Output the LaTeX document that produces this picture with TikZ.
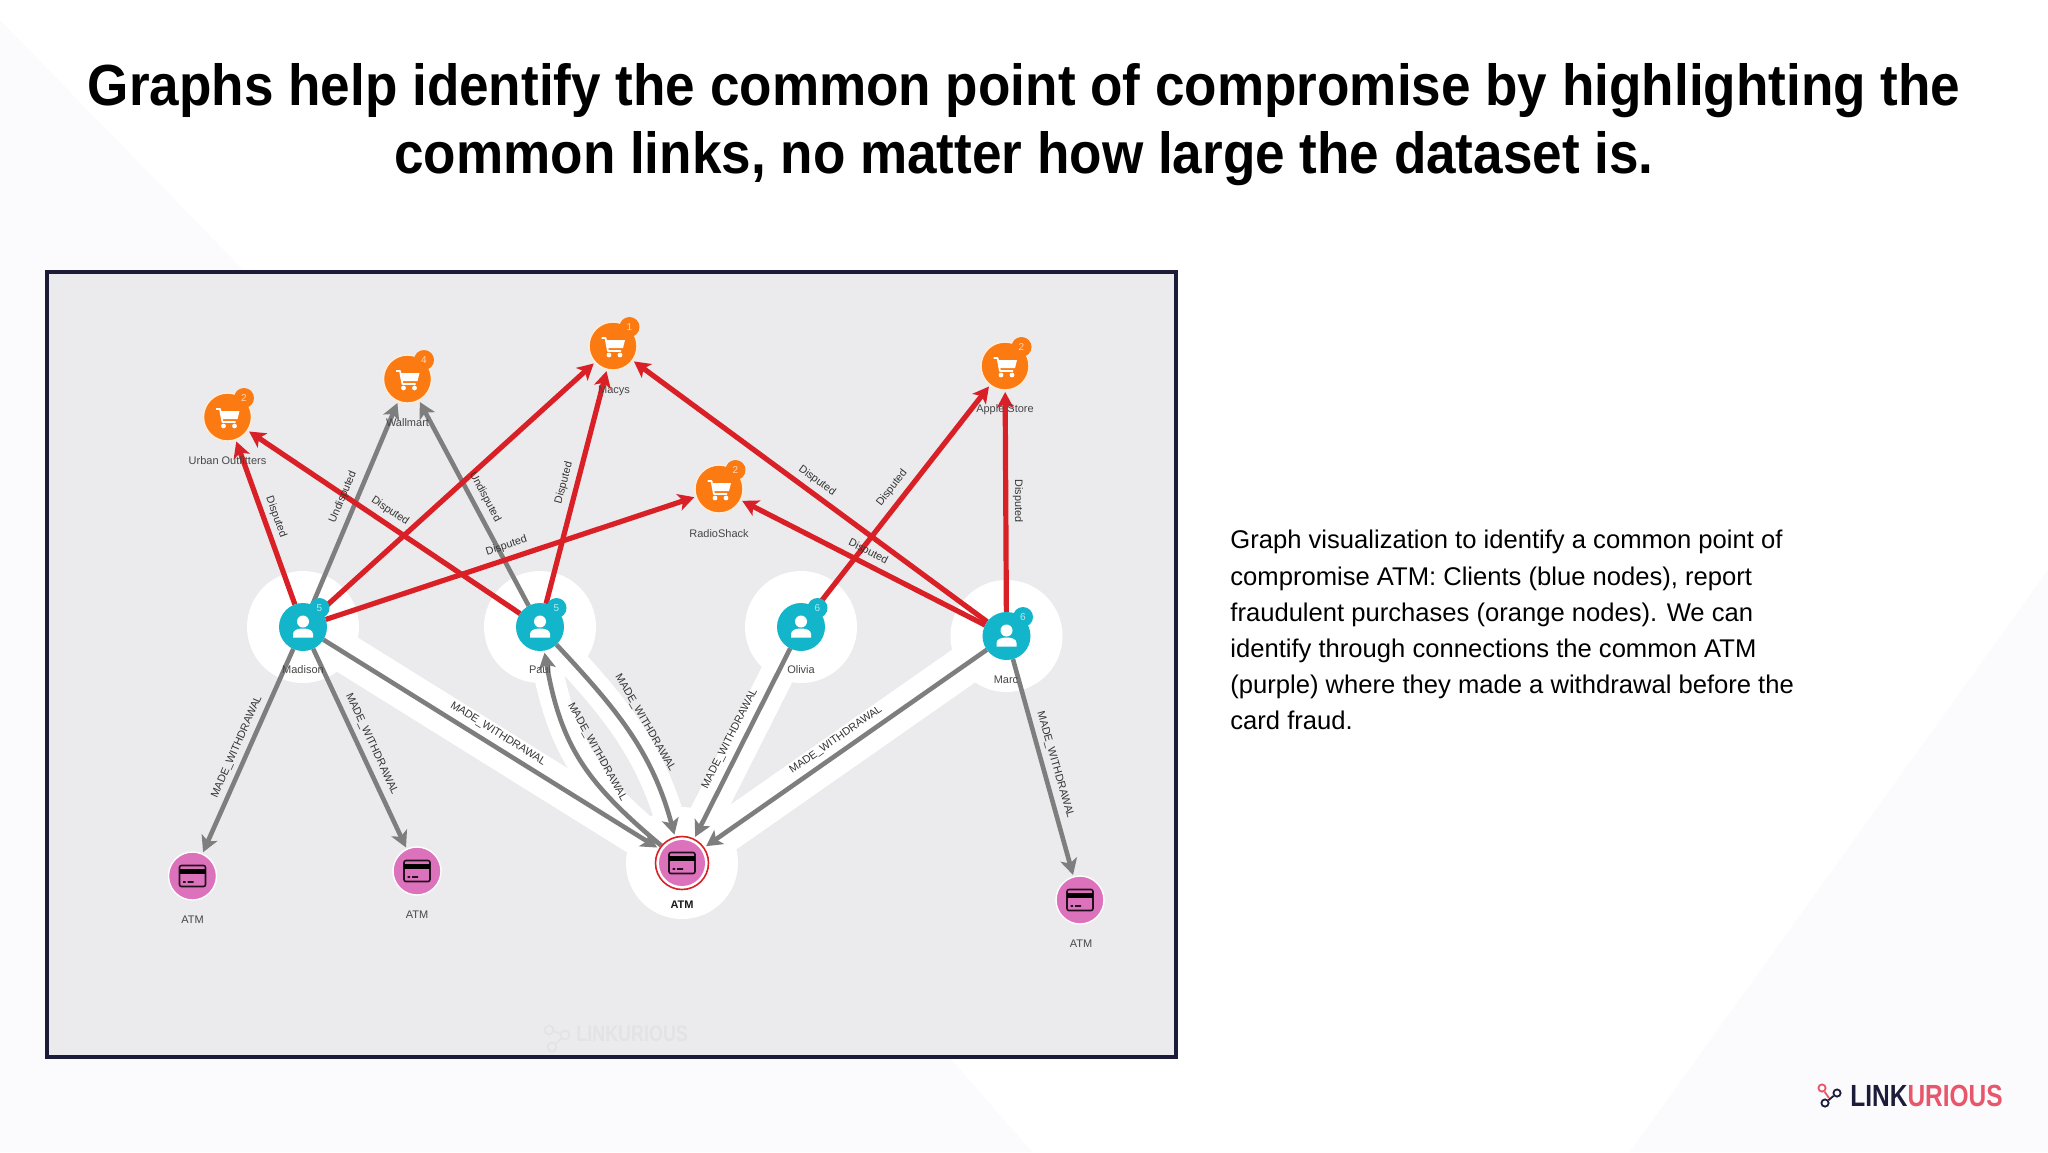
\documentclass[tikz,border=0pt]{standalone}
\usepackage{fontspec}
\setmainfont{Liberation Sans}
\newfontfamily\logofont[FakeStretch=0.8]{Liberation Sans Bold}
\newfontfamily\titlefont[FakeStretch=0.915]{Liberation Sans Bold}
\usetikzlibrary{arrows.meta}
\pgfdeclarelayer{backlayer}
\pgfdeclarelayer{halolayer}
\pgfdeclarelayer{edgelayer}
\pgfsetlayers{backlayer,halolayer,edgelayer,main}
\definecolor{framecol}{HTML}{1C1B3A}
\definecolor{panelcol}{HTML}{EBEBED}
\definecolor{orangecol}{HTML}{FB7A12}
\definecolor{tealcol}{HTML}{13B5CB}
\definecolor{pinkcol}{HTML}{DD72BC}
\definecolor{redcol}{HTML}{D92026}
\definecolor{graycol}{HTML}{7E7E7E}
\definecolor{coral}{HTML}{E8566B}
\definecolor{pagetint}{HTML}{FBFBFD}
\tikzset{
  x=0.5pt,y=-0.5pt,
  gnode/.style={circle,inner sep=0pt,minimum size=24pt,outer sep=0pt},
  shopnode/.style={gnode,fill=orangecol,draw=white!85!orange,line width=.7pt},
  clientnode/.style={gnode,fill=tealcol},
  atmnode/.style={gnode,fill=pinkcol,draw=white,line width=.7pt},
  badgenode/.style={circle,inner sep=0pt,minimum size=10pt,font=\fontsize{5}{5}\selectfont},
  shopbadge/.style={badgenode,fill=orangecol,text=white!70!orangecol},
  clientbadge/.style={badgenode,fill=tealcol,text=white!70!tealcol},
  redge/.style={draw=redcol,line width=2.6pt,-{Stealth[length=8pt,width=8.5pt,inset=2pt]},shorten >=1pt},
  gedge/.style={draw=graycol,line width=2.3pt,-{Stealth[length=8pt,width=8.5pt,inset=2pt]},shorten >=1pt},
  band/.style={draw=white,line width=20pt},
  leftcurve/.style={out=140,in=-80,looseness=1.1},
  rightcurve/.style={out=-47,in=105},
  elab/.style={font=\fontsize{5.4}{6}\selectfont,text=black!80,inner sep=0pt},
  nlab/.style={font=\fontsize{5.5}{6}\selectfont,text=black!72,inner sep=0pt},
  cart/.pic={
    \draw[white,line width=.9pt,line join=round] (-11.5,-8)--(-7.5,-8)--(-5,5)--(8,5);
    \fill[white] (-6.5,-6)--(12,-6)--(10,2)--(-5,2)--cycle;
    \fill[white] (-4,9) circle[radius=1.2pt] (7,9) circle[radius=1.2pt];
  },
  person/.pic={
    \fill[white] (0,-5.5) circle[radius=3pt];
    \fill[white] (-10,10.5) -- (-10,7) .. controls (-10,3) and (-5,1.5) .. (0,1.5)
      .. controls (5,1.5) and (10,3) .. (10,7) -- (10,10.5) -- cycle;
  },
  card/.pic={
    \draw[black!85!pinkcol,line width=.8pt,rounded corners=1pt] (-13,-10.5) rectangle (13,10.5);
    \fill[black] (-13,-7) rectangle (13,-2.5);
    \fill[black!85!pinkcol] (-9.5,5.2) rectangle (-7,6.8) (-5,5.2) rectangle (1,6.8);
  }
}
\begin{document}
\begin{tikzpicture}
\useasboundingbox (0,0) rectangle (2048,1152);
\begin{pgfonlayer}{backlayer}
\fill[white] (0,0) rectangle (2048,1152);
\fill[pagetint] (0,20)--(245,272)--(245,1058)--(950,1058)--(1032,1152)--(0,1152)--cycle;
\fill[pagetint] (2048,570)--(1630,1152)--(2048,1152)--cycle;
\node[draw=framecol,fill=panelcol,line width=2pt,inner sep=0pt,minimum width=564.5pt,minimum height=392.5pt,outer sep=0pt] (panel) at (611.5,664.5) {};
\end{pgfonlayer}
% title and text
\node[align=center,inner sep=0pt,font=\titlefont\fontsize{29}{34}\selectfont] (title) at (1024,124.5)
  {Graphs help identify the common point of compromise by highlighting the\\common links, no matter how large the dataset is.};
\node[anchor=north west,align=left,inner sep=0pt,font=\fontsize{12.8}{18.1}\selectfont] (body) at (1230,530)
  {Graph visualization to identify a common point of\\compromise ATM: Clients (blue nodes), report\\fraudulent purchases (orange nodes). We can\\identify through connections the common ATM\\(purple) where they made a withdrawal before the\\card fraud.};
% graph nodes
\node[shopnode] (urban) at (227.5,417) {}; \pic at (urban) {cart};
\node[shopbadge] (b1) at (244,398) {2};
\node[shopnode] (wall) at (407.5,379) {}; \pic at (wall) {cart};
\node[shopbadge] (b2) at (424,360) {4};
\node[shopnode] (macys) at (613,346) {}; \pic at (macys) {cart};
\node[shopbadge] (b3) at (629.5,327) {1};
\node[shopnode] (radio) at (719,489) {}; \pic at (radio) {cart};
\node[shopbadge] (b4) at (735.5,470) {2};
\node[shopnode] (apple) at (1005,366) {}; \pic at (apple) {cart};
\node[shopbadge] (b5) at (1021.5,347) {2};
\node[clientnode] (madison) at (303,627) {}; \pic at (madison) {person};
\node[clientbadge] (b6) at (319.5,608) {5};
\node[clientnode] (paul) at (540,627) {}; \pic at (paul) {person};
\node[clientbadge] (b7) at (556.5,608) {5};
\node[clientnode] (olivia) at (801,627) {}; \pic at (olivia) {person};
\node[clientbadge] (b8) at (817.5,608) {6};
\node[clientnode] (marc) at (1006.5,636) {}; \pic at (marc) {person};
\node[clientbadge] (b9) at (1023,617) {6};
\node[atmnode] (atma) at (192.5,876) {}; \pic at (atma) {card};
\node[atmnode] (atmb) at (417,871) {}; \pic at (atmb) {card};
\node[circle,inner sep=0pt,minimum size=26.5pt,fill=white,draw=redcol,line width=.8pt] (atmr) at (682,863) {};
\node[atmnode,draw=none,minimum size=23pt] (atmc) at (682,863) {}; \pic at (atmc) {card};
\node[atmnode] (atmd) at (1080,900) {}; \pic at (atmd) {card};
% halos
\begin{pgfonlayer}{halolayer}
  \fill[white] (madison) circle[radius=28pt] (paul) circle[radius=28pt]
    (olivia) circle[radius=28pt] (marc) circle[radius=28pt] (atmc) circle[radius=28pt];
  \draw[band] (madison.center) -- (atmc.center);
  \draw[band,line width=17pt] (olivia.center) -- (atmc.center);
  \draw[band] (marc.center) -- (atmc.center);
  \draw[band,line width=15pt] (paul) to[rightcurve] (atmr);
  \draw[band,line width=15pt] (atmr) to[leftcurve] (paul);
\end{pgfonlayer}
% connectors
\begin{pgfonlayer}{edgelayer}
  \draw[gedge] (madison) -- (wall);
  \draw[gedge] (paul) -- (wall);
  \draw[gedge] (madison) -- (atma);
  \draw[gedge] (madison) -- (atmb);
  \draw[gedge] (madison) -- (atmr);
  \draw[gedge] (atmr) to[leftcurve] (paul);
  \draw[gedge] (paul) to[rightcurve] (atmr);
  \draw[gedge] (olivia) -- (atmr);
  \draw[gedge] (marc) -- (atmr);
  \draw[gedge] (marc) -- (atmd);
  \draw[redge] (madison) -- (urban);
  \draw[redge] (madison) -- (macys);
  \draw[redge] (madison) -- (radio);
  \draw[redge] (paul) -- (urban);
  \draw[redge] (paul) -- (macys);
  \draw[redge] (olivia) -- (apple);
  \draw[redge] (marc) -- (macys);
  \draw[redge] (marc) -- (radio);
  \draw[redge] (marc) -- (apple);
\end{pgfonlayer}
% connector labels
\node[elab,rotate=-70] (e1) at (276,517) {Disputed};
\node[elab,rotate=67] (e2) at (343,497) {Undisputed};
\node[elab,rotate=-34] (e3) at (390,511) {Disputed};
\node[elab,rotate=-62] (e4) at (485,497) {Undisputed};
\node[elab,rotate=18] (e5) at (506.5,546) {Disputed};
\node[elab,rotate=75] (e6) at (564,483) {Disputed};
\node[elab,rotate=-36] (e7) at (817,481) {Disputed};
\node[elab,rotate=52] (e8) at (892,488) {Disputed};
\node[elab,rotate=-27] (e9) at (868,552) {Disputed};
\node[elab,rotate=-90] (e10) at (1018,501) {Disputed};
\node[elab,rotate=66] (m1) at (237,747) {MADE\_WITHDRAWAL};
\node[elab,rotate=-65] (m2) at (371.5,744) {MADE\_WITHDRAWAL};
\node[elab,rotate=-32] (m3) at (498,734) {MADE\_WITHDRAWAL};
\node[elab,rotate=-61] (m4) at (597,752) {MADE\_WITHDRAWAL};
\node[elab,rotate=-60] (m5) at (645,723) {MADE\_WITHDRAWAL};
\node[elab,rotate=63] (m6) at (730,739) {MADE\_WITHDRAWAL};
\node[elab,rotate=35] (m7) at (836,740) {MADE\_WITHDRAWAL};
\node[elab,rotate=-74] (m8) at (1055,765) {MADE\_WITHDRAWAL};
% node labels
\node[nlab] (l1) at (227.5,461) {Urban Outfitters};
\node[nlab] (l2) at (407.5,423) {Wallmart};
\node[nlab] (l3) at (614,391) {Macys};
\node[nlab] (l4) at (719,534) {RadioShack};
\node[nlab] (l5) at (1005,410) {Apple Store};
\node[nlab] (l6) at (303,670) {Madison};
\node[nlab] (l7) at (540,670) {Paul};
\node[nlab] (l8) at (801,670) {Olivia};
\node[nlab] (l9) at (1006,680) {Marc};
\node[nlab] (l10) at (192.5,920) {ATM};
\node[nlab] (l11) at (417,915) {ATM};
\node[nlab,font=\fontsize{5.5}{6}\bfseries\selectfont,text=black!90] (l12) at (682,905) {ATM};
\node[nlab] (l13) at (1081,944) {ATM};
% watermark
\node[anchor=west,inner sep=0pt,text=black!11,font=\logofont\fontsize{11.2}{12}\selectfont] (wm) at (576,1034) {LINKURIOUS};
\node[circle,draw=black!11,line width=.8pt,inner sep=0pt,minimum size=4.5pt] (wa) at (549,1030) {};
\node[circle,draw=black!11,line width=.8pt,inner sep=0pt,minimum size=4.5pt] (wb) at (565,1035) {};
\node[circle,draw=black!11,line width=.8pt,inner sep=0pt,minimum size=4.5pt] (wc) at (552,1047) {};
\draw[black!11,line width=.8pt] (wa) -- (wb) -- (wc);
% logo
\node[anchor=west,inner sep=0pt,font=\logofont\fontsize{15.3}{16}\selectfont] (logo) at (1850,1096) {\textcolor{framecol}{LINK}\textcolor{coral}{URIOUS}};
\node[circle,draw=coral,line width=.9pt,inner sep=0pt,minimum size=3.6pt] (la) at (1822,1088) {};
\node[circle,draw=framecol,line width=.9pt,inner sep=0pt,minimum size=3.6pt] (lb) at (1837,1093) {};
\node[circle,draw=framecol,line width=.9pt,inner sep=0pt,minimum size=3.6pt] (lc) at (1825,1103) {};
\draw[framecol,line width=.9pt] (lb) -- (lc);
\draw[coral,line width=.9pt] (la) -- (1829,1098);
\end{tikzpicture}
\end{document}
